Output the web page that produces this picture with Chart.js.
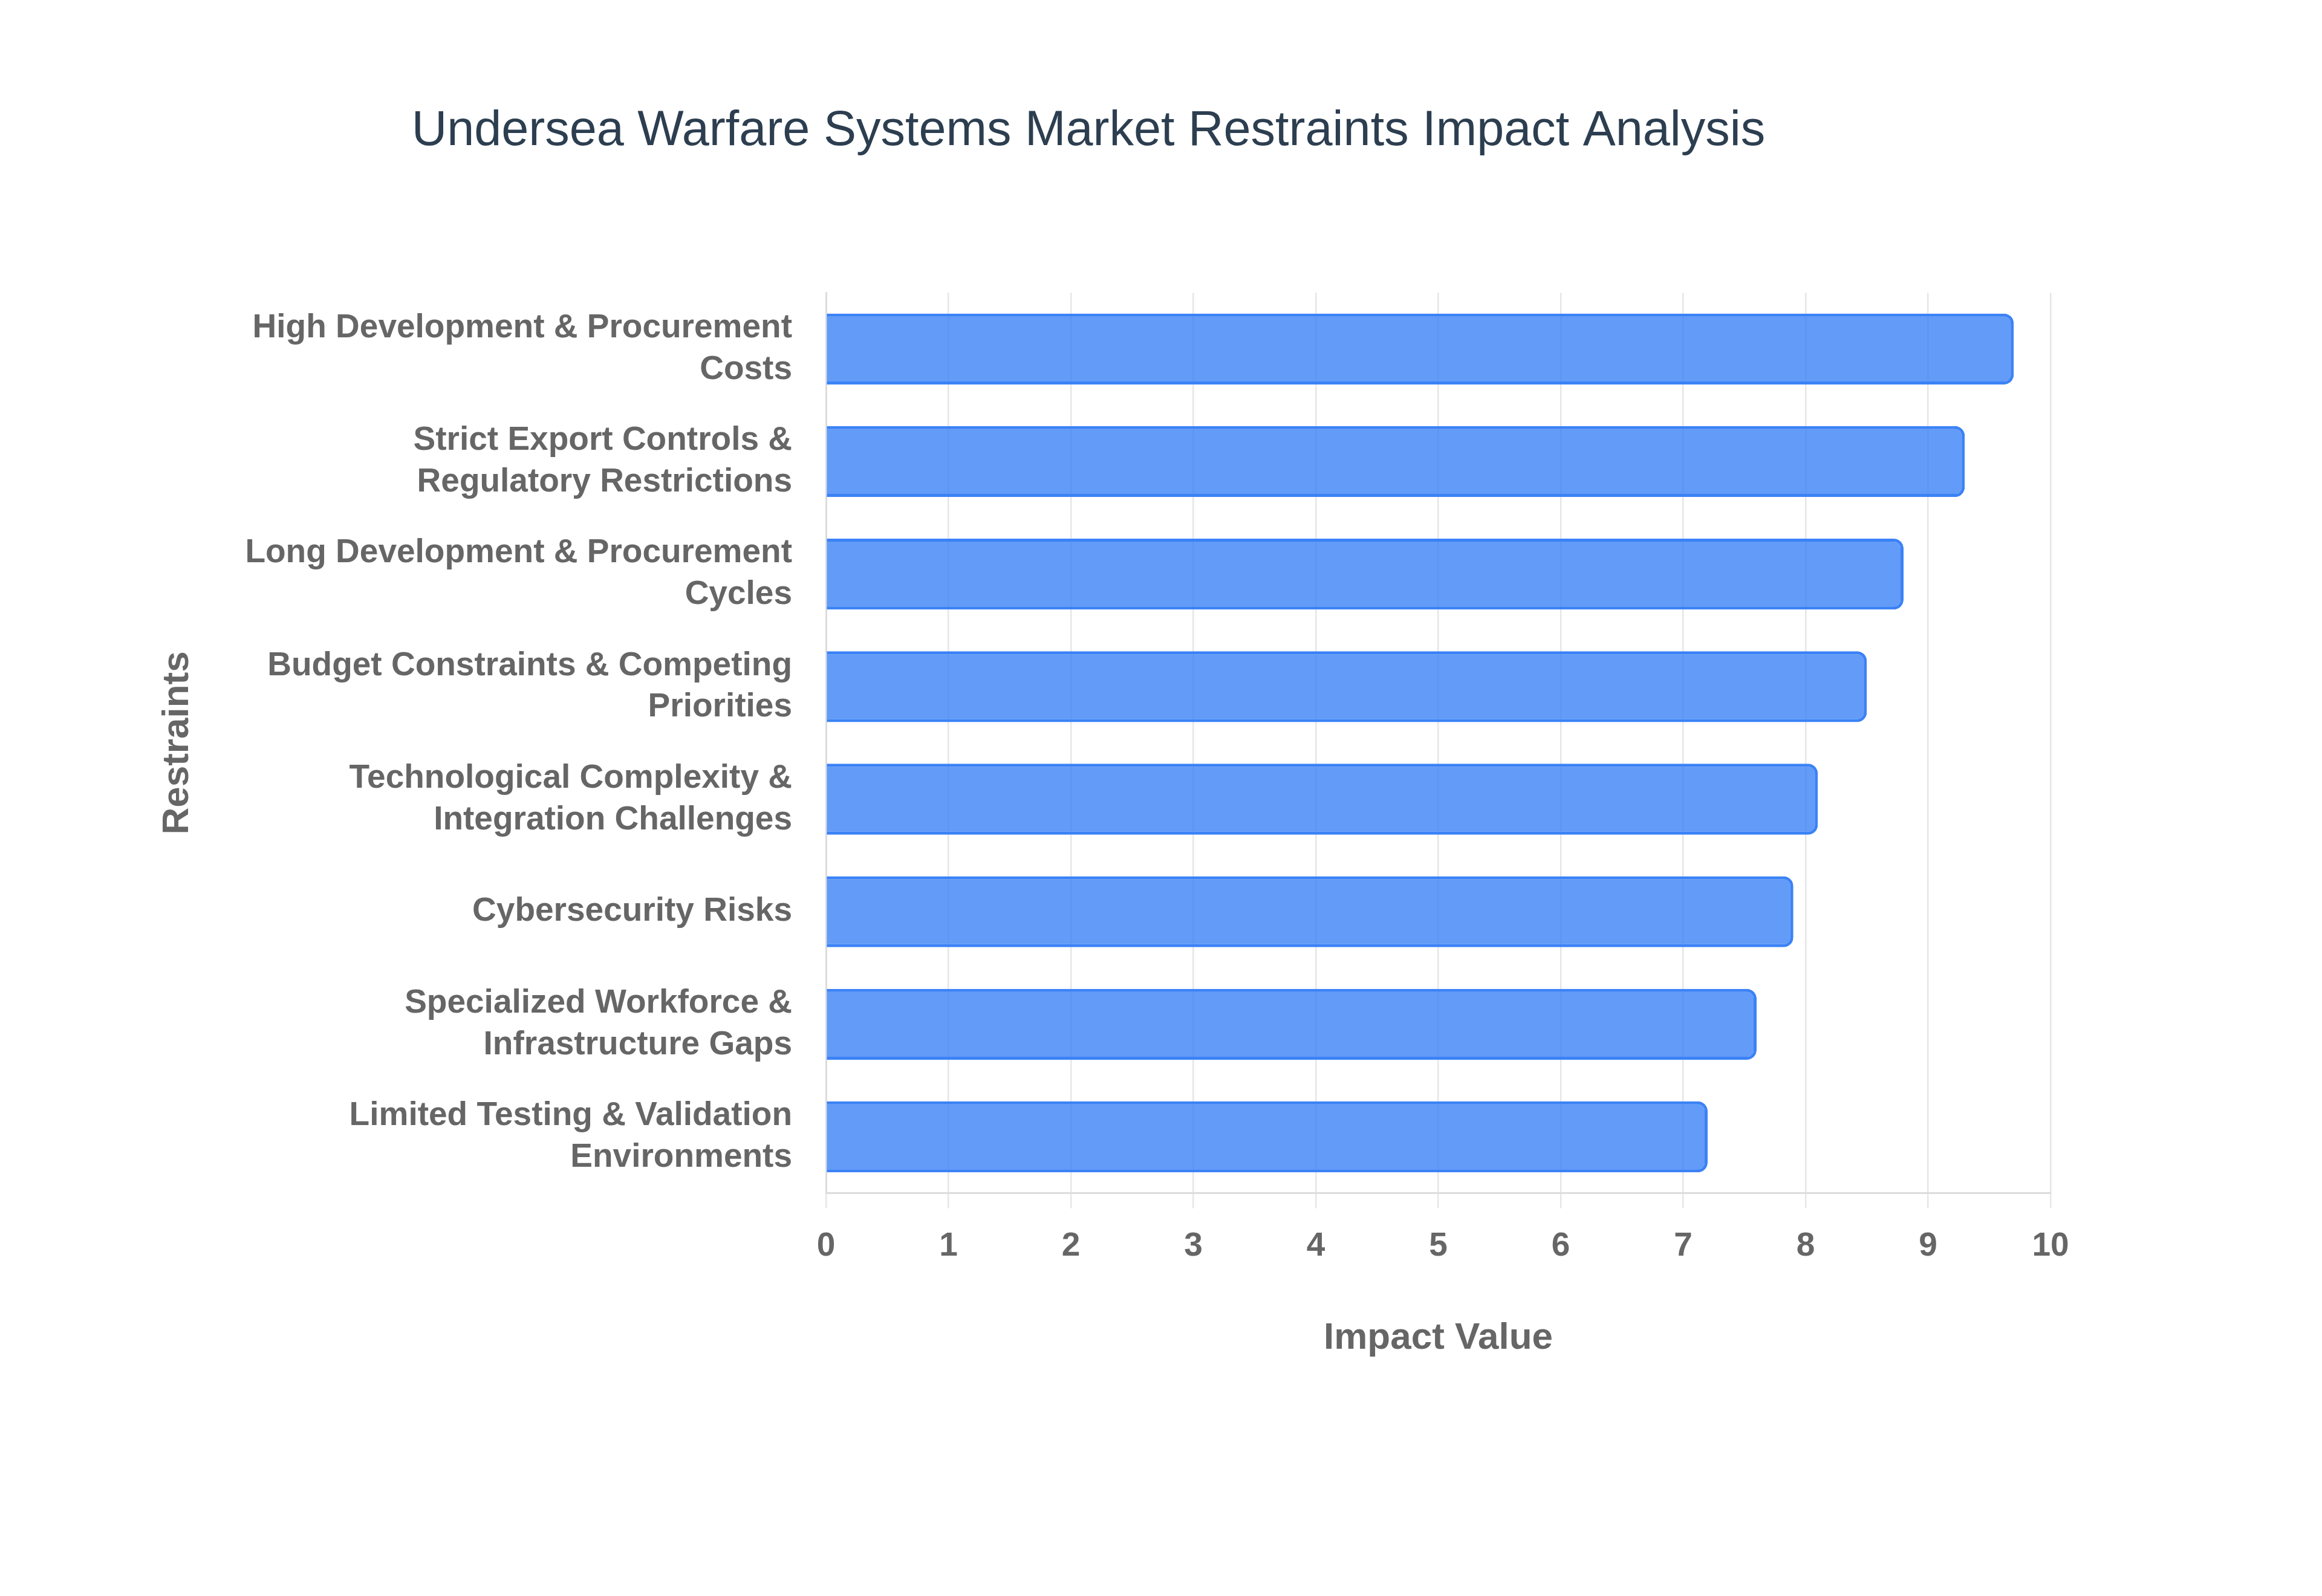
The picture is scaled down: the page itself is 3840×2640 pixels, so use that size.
<!DOCTYPE html>
<html>
<head>
<meta charset="utf-8">
<script src="https://cdn.jsdelivr.net/npm/chart.js@4/dist/chart.umd.min.js"></script>
<style>
  html, body { margin: 0; padding: 0; background: #ffffff; }
  #wrap { width: 3840px; height: 2640px; }
</style>
</head>
<body>
<div id="wrap"><canvas id="restraintsChart" width="3840" height="2640"></canvas></div>
<script>
"use strict";

const CHART_TITLE = "Undersea Warfare Systems Market Restraints Impact Analysis";

const RESTRAINTS = [
  ["High Development & Procurement", "Costs"],
  ["Strict Export Controls &", "Regulatory Restrictions"],
  ["Long Development & Procurement", "Cycles"],
  ["Budget Constraints & Competing", "Priorities"],
  ["Technological Complexity &", "Integration Challenges"],
  "Cybersecurity Risks",
  ["Specialized Workforce &", "Infrastructure Gaps"],
  ["Limited Testing & Validation", "Environments"],
];

const IMPACT_VALUES = [9.7, 9.3, 8.8, 8.5, 8.1, 7.9, 7.6, 7.2];

const X_MIN = 0;
const X_MAX = 10;
const X_STEP = 1;

const AXIS_GREY = "#666666";
const GRID_GREY = "#e6e6e6";

Chart.defaults.font.family = "'Liberation Sans', Arial, Helvetica, sans-serif";

new Chart(document.getElementById("restraintsChart"), {
  type: "bar",
  data: {
    labels: RESTRAINTS,
    datasets: [{
      label: "Impact Value",
      data: IMPACT_VALUES,
      backgroundColor: "rgba(59, 130, 246, 0.8)",
      borderColor: "#3b82f6",
      borderWidth: 5,
      borderRadius: 16,
      borderSkipped: "start",
      categoryPercentage: 0.9,
      barPercentage: 0.7,
    }],
  },
  options: {
    indexAxis: "y",
    responsive: false,
    devicePixelRatio: 1,
    animation: false,
    layout: { padding: { left: 209, right: 449, top: 0, bottom: 385 } },
    plugins: {
      legend: { display: false },
      tooltip: { enabled: false },
      title: {
        display: true,
        text: CHART_TITLE,
        color: "#2c3e50",
        font: { size: 81, weight: "normal" },
        padding: { top: 169, bottom: 218 },
      },
    },
    scales: {
      x: {
        min: X_MIN,
        max: X_MAX,
        ticks: {
          stepSize: X_STEP,
          color: AXIS_GREY,
          font: { size: 55, weight: "bold" },
          padding: 30,
        },
        grid: { color: GRID_GREY, lineWidth: 2.5, tickLength: 25 },
        border: { display: true, color: "#dcdcdc", width: 3 },
        title: {
          display: true,
          text: "Impact Value",
          color: AXIS_GREY,
          font: { size: 62, weight: "bold" },
          padding: { top: 52, bottom: 4 },
        },
      },
      y: {
        afterFit: (scale) => { scale.width = 1157; },
        ticks: {
          color: AXIS_GREY,
          font: { size: 55, weight: "bold", lineHeight: 1.25 },
          padding: 56,
        },
        grid: { display: false, drawTicks: false },
        border: { display: true, color: "#dcdcdc", width: 3 },
        title: {
          display: true,
          text: "Restraints",
          color: AXIS_GREY,
          font: { size: 62, weight: "bold" },
          padding: { top: 48, bottom: 0 },
        },
      },
    },
  },
});
</script>
</body>
</html>
